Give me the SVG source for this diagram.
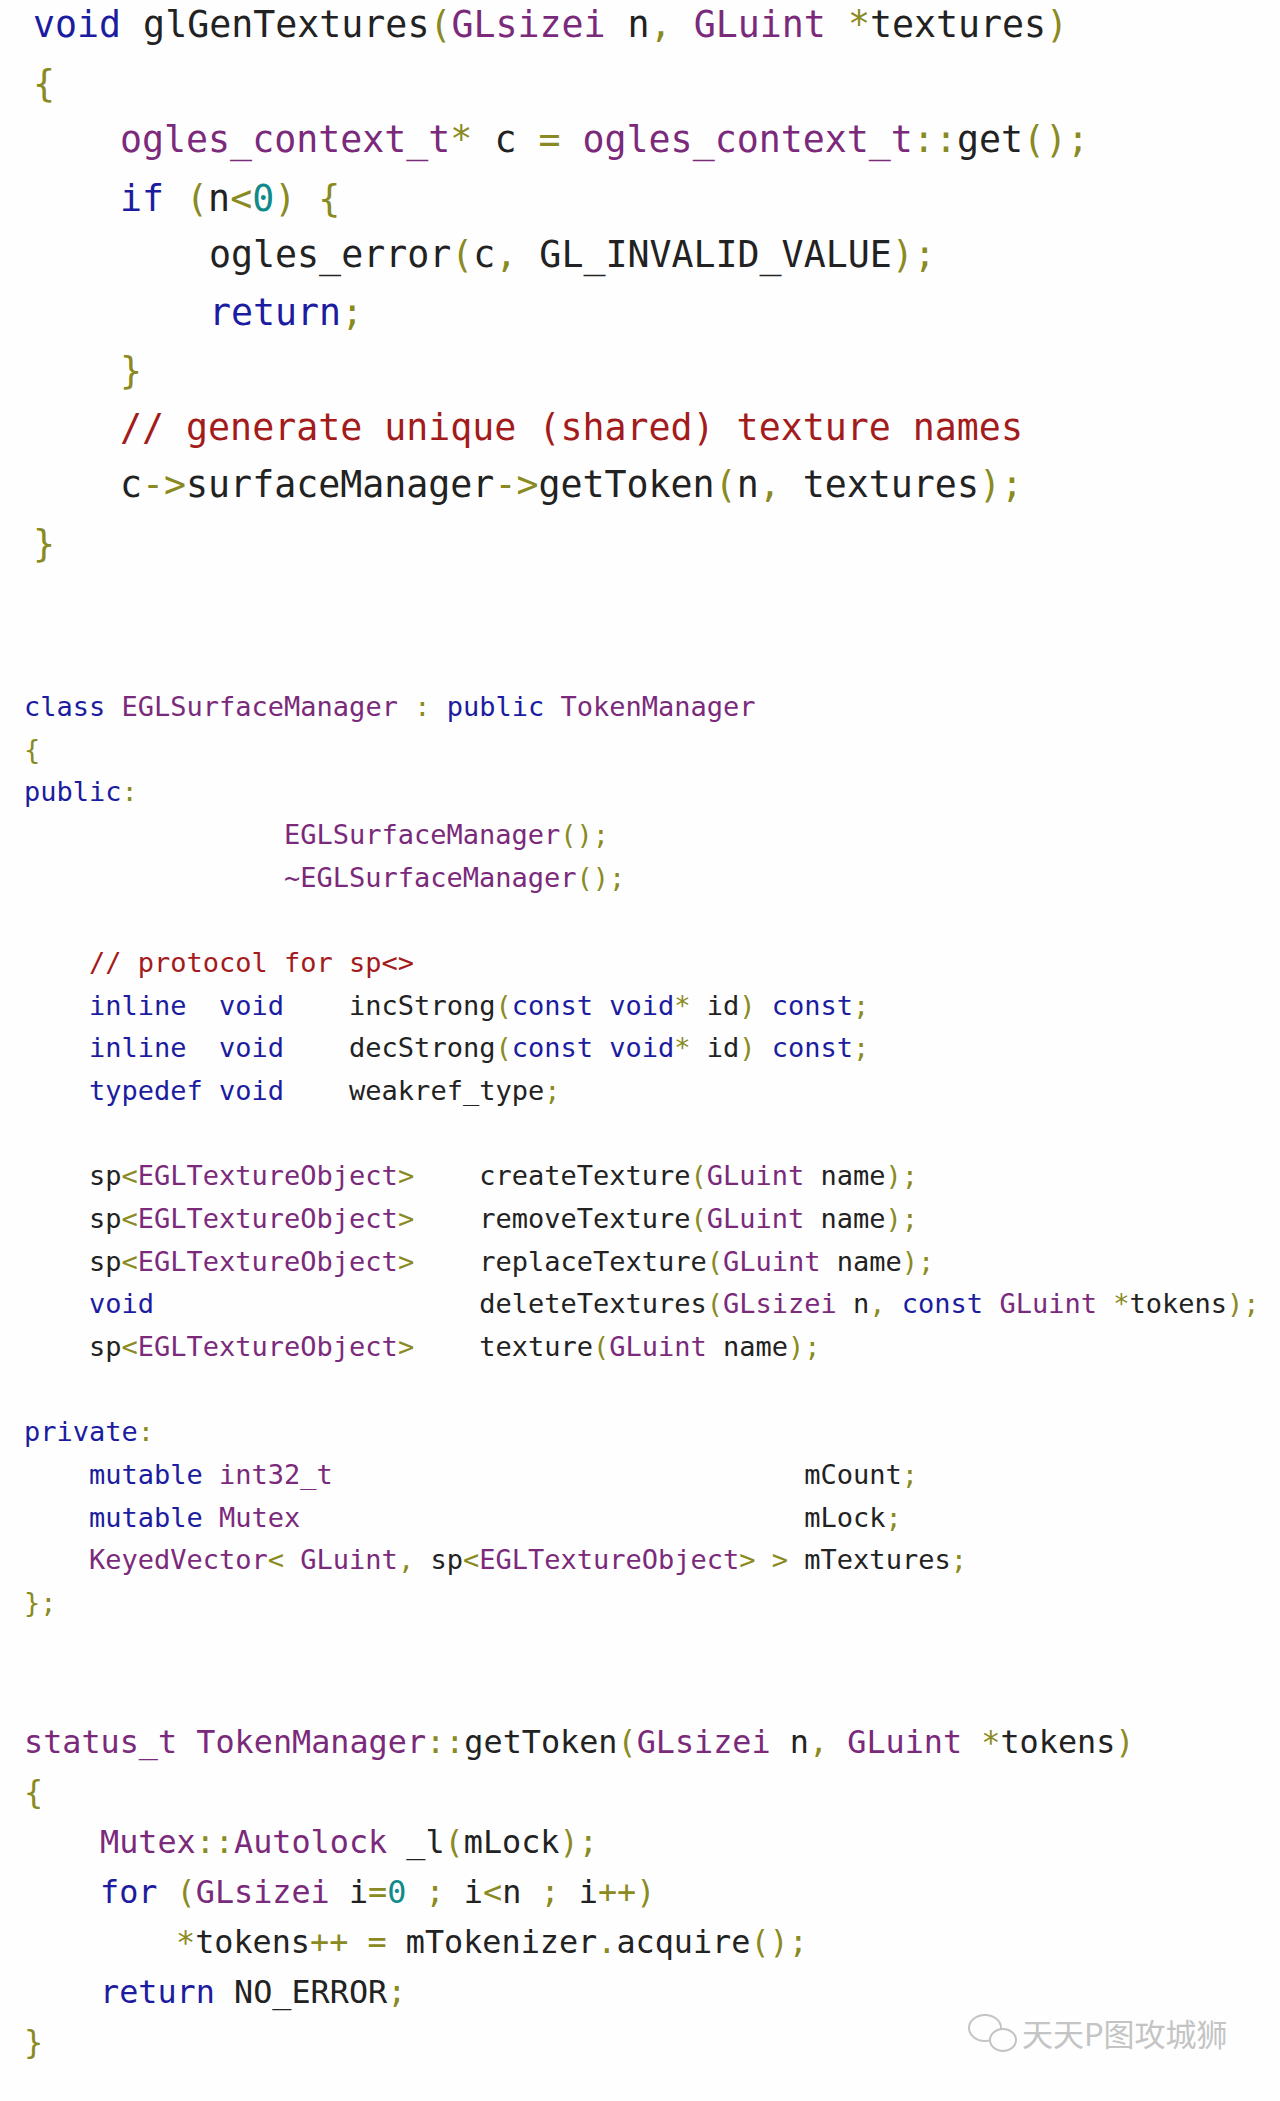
<svg xmlns="http://www.w3.org/2000/svg" width="1280" height="2101" viewBox="0 0 1280 2101">
<style>
text{font-family:"DejaVu Sans Mono","Liberation Mono",monospace;fill:#222;white-space:pre}
.a{font-size:36.6px}.b{font-size:27px}.d{font-size:31.8px}
.k{fill:#1c1ca0}.t{fill:#7b2a7b}.p{fill:#8a8a22}.c{fill:#a31b1b}.n{fill:#108a8a}
.w{font-family:"Noto Sans CJK SC",sans-serif;font-size:31px;fill:#c4c4c4}
</style>
<rect width="1280" height="2101" fill="#fefefe"/>
<g id="glGenTextures" class="a">
<text x="33" y="37" xml:space="preserve"><tspan class="k">void</tspan> glGenTextures<tspan class="p">(</tspan><tspan class="t">GLsizei</tspan> n<tspan class="p">,</tspan> <tspan class="t">GLuint</tspan> <tspan class="p">*</tspan>textures<tspan class="p">)</tspan></text>
<text x="33" y="96" class="p">{</text>
<text x="120" y="152" xml:space="preserve"><tspan class="t">ogles_context_t</tspan><tspan class="p">*</tspan> c <tspan class="p">=</tspan> <tspan class="t">ogles_context_t</tspan><tspan class="p">::</tspan>get<tspan class="p">();</tspan></text>
<text x="120" y="211" xml:space="preserve"><tspan class="k">if</tspan> <tspan class="p">(</tspan>n<tspan class="p">&lt;</tspan><tspan class="n">0</tspan><tspan class="p">)</tspan> <tspan class="p">{</tspan></text>
<text x="209" y="267" xml:space="preserve">ogles_error<tspan class="p">(</tspan>c<tspan class="p">,</tspan> GL_INVALID_VALUE<tspan class="p">);</tspan></text>
<text x="209" y="325"><tspan class="k">return</tspan><tspan class="p">;</tspan></text>
<text x="120" y="383" class="p">}</text>
<text x="120" y="440" class="c" xml:space="preserve">// generate unique (shared) texture names</text>
<text x="120" y="497" xml:space="preserve">c<tspan class="p">-&gt;</tspan>surfaceManager<tspan class="p">-&gt;</tspan>getToken<tspan class="p">(</tspan>n<tspan class="p">,</tspan> textures<tspan class="p">);</tspan></text>
<text x="33" y="556" class="p">}</text>
</g>
<g id="EGLSurfaceManager" class="b">
<text x="24" y="716" xml:space="preserve"><tspan class="k">class</tspan> <tspan class="t">EGLSurfaceManager</tspan> <tspan class="p">:</tspan> <tspan class="k">public</tspan> <tspan class="t">TokenManager</tspan></text>
<text x="24" y="759" class="p">{</text>
<text x="24" y="801"><tspan class="k">public</tspan><tspan class="p">:</tspan></text>
<text x="284" y="844"><tspan class="t">EGLSurfaceManager</tspan><tspan class="p">();</tspan></text>
<text x="284" y="887"><tspan class="t">~EGLSurfaceManager</tspan><tspan class="p">();</tspan></text>
<text x="89" y="972" class="c" xml:space="preserve">// protocol for sp&lt;&gt;</text>
<text x="89" y="1015" xml:space="preserve"><tspan class="k">inline  void</tspan>    incStrong<tspan class="p">(</tspan><tspan class="k">const void</tspan><tspan class="p">*</tspan> id<tspan class="p">)</tspan> <tspan class="k">const</tspan><tspan class="p">;</tspan></text>
<text x="89" y="1057" xml:space="preserve"><tspan class="k">inline  void</tspan>    decStrong<tspan class="p">(</tspan><tspan class="k">const void</tspan><tspan class="p">*</tspan> id<tspan class="p">)</tspan> <tspan class="k">const</tspan><tspan class="p">;</tspan></text>
<text x="89" y="1100" xml:space="preserve"><tspan class="k">typedef void</tspan>    weakref_type<tspan class="p">;</tspan></text>
<text x="89" y="1185" xml:space="preserve">sp<tspan class="p">&lt;</tspan><tspan class="t">EGLTextureObject</tspan><tspan class="p">&gt;</tspan>    createTexture<tspan class="p">(</tspan><tspan class="t">GLuint</tspan> name<tspan class="p">);</tspan></text>
<text x="89" y="1228" xml:space="preserve">sp<tspan class="p">&lt;</tspan><tspan class="t">EGLTextureObject</tspan><tspan class="p">&gt;</tspan>    removeTexture<tspan class="p">(</tspan><tspan class="t">GLuint</tspan> name<tspan class="p">);</tspan></text>
<text x="89" y="1271" xml:space="preserve">sp<tspan class="p">&lt;</tspan><tspan class="t">EGLTextureObject</tspan><tspan class="p">&gt;</tspan>    replaceTexture<tspan class="p">(</tspan><tspan class="t">GLuint</tspan> name<tspan class="p">);</tspan></text>
<text x="89" y="1313" xml:space="preserve"><tspan class="k">void</tspan>                    deleteTextures<tspan class="p">(</tspan><tspan class="t">GLsizei</tspan> n<tspan class="p">,</tspan> <tspan class="k">const</tspan> <tspan class="t">GLuint</tspan> <tspan class="p">*</tspan>tokens<tspan class="p">);</tspan></text>
<text x="89" y="1356" xml:space="preserve">sp<tspan class="p">&lt;</tspan><tspan class="t">EGLTextureObject</tspan><tspan class="p">&gt;</tspan>    texture<tspan class="p">(</tspan><tspan class="t">GLuint</tspan> name<tspan class="p">);</tspan></text>
<text x="24" y="1441"><tspan class="k">private</tspan><tspan class="p">:</tspan></text>
<text x="89" y="1484" xml:space="preserve"><tspan class="k">mutable</tspan> <tspan class="t">int32_t</tspan>                             mCount<tspan class="p">;</tspan></text>
<text x="89" y="1527" xml:space="preserve"><tspan class="k">mutable</tspan> <tspan class="t">Mutex</tspan>                               mLock<tspan class="p">;</tspan></text>
<text x="89" y="1569" xml:space="preserve"><tspan class="t">KeyedVector</tspan><tspan class="p">&lt;</tspan> <tspan class="t">GLuint</tspan><tspan class="p">,</tspan> sp<tspan class="p">&lt;</tspan><tspan class="t">EGLTextureObject</tspan><tspan class="p">&gt;</tspan> <tspan class="p">&gt;</tspan> mTextures<tspan class="p">;</tspan></text>
<text x="24" y="1612" class="p">};</text>
</g>
<g id="getToken" class="d">
<text x="24" y="1753" xml:space="preserve"><tspan class="t">status_t</tspan> <tspan class="t">TokenManager</tspan><tspan class="p">::</tspan>getToken<tspan class="p">(</tspan><tspan class="t">GLsizei</tspan> n<tspan class="p">,</tspan> <tspan class="t">GLuint</tspan> <tspan class="p">*</tspan>tokens<tspan class="p">)</tspan></text>
<text x="24" y="1803" class="p">{</text>
<text x="100" y="1853" xml:space="preserve"><tspan class="t">Mutex</tspan><tspan class="p">::</tspan><tspan class="t">Autolock</tspan> _l<tspan class="p">(</tspan>mLock<tspan class="p">);</tspan></text>
<text x="100" y="1903" xml:space="preserve"><tspan class="k">for</tspan> <tspan class="p">(</tspan><tspan class="t">GLsizei</tspan> i<tspan class="p">=</tspan><tspan class="n">0</tspan> <tspan class="p">;</tspan> i<tspan class="p">&lt;</tspan>n <tspan class="p">;</tspan> i<tspan class="p">++)</tspan></text>
<text x="176" y="1953" xml:space="preserve"><tspan class="p">*</tspan>tokens<tspan class="p">++</tspan> <tspan class="p">=</tspan> mTokenizer<tspan class="p">.</tspan>acquire<tspan class="p">();</tspan></text>
<text x="100" y="2003" xml:space="preserve"><tspan class="k">return</tspan> NO_ERROR<tspan class="p">;</tspan></text>
<text x="24" y="2053" class="p">}</text>
</g>
<g id="watermark" fill="none" stroke="#c4c4c4" stroke-width="2">
<ellipse cx="985" cy="2028" rx="16" ry="13"/>
<ellipse cx="1003" cy="2040" rx="13" ry="11" fill="#fefefe"/>
<text x="1022" y="2046" class="w" stroke="none">天天P图攻城狮</text>
</g>
</svg>
